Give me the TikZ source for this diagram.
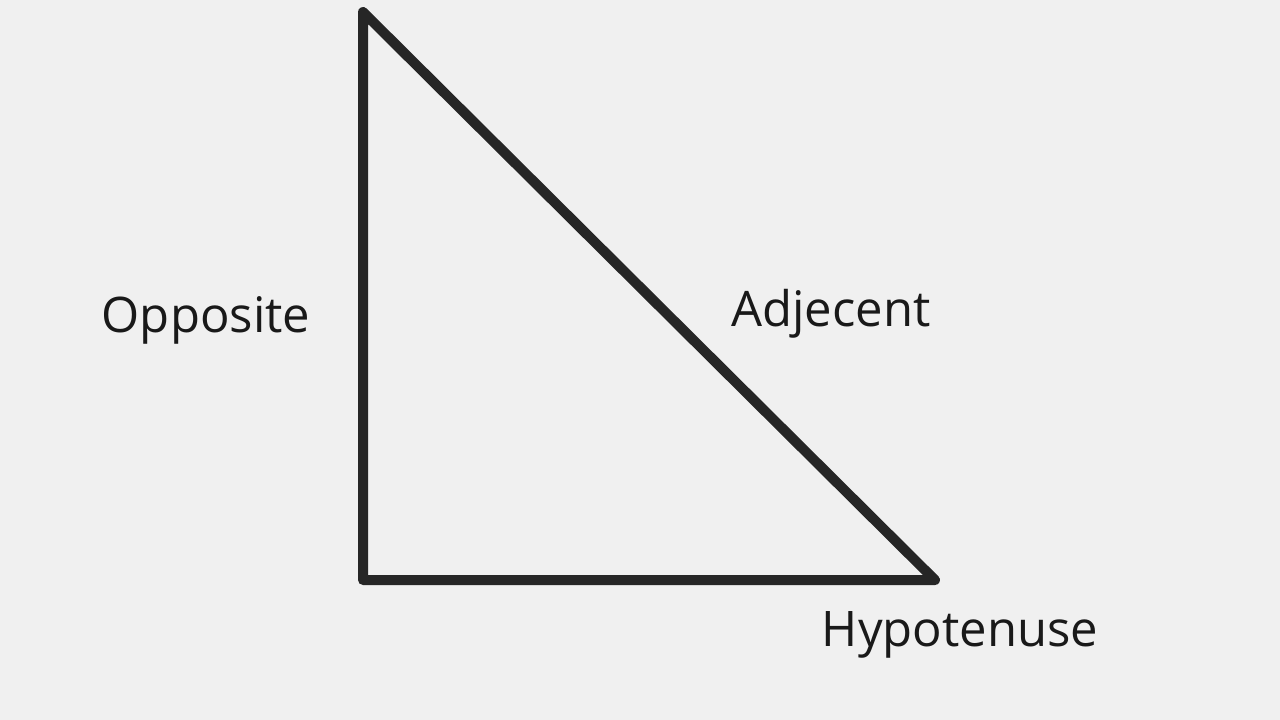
\documentclass[tikz,border=0pt]{standalone}
\usepackage{fontspec}
\setmainfont{Open Sans}
\begin{document}
\begin{tikzpicture}[x=1pt,y=-1pt,
  lbl/.style={font=\fontsize{49}{55}\selectfont, text=black!90, inner sep=0pt, anchor=base}]
\fill[black!6] (0,0) rectangle (1280,720);
\useasboundingbox (0,0) rectangle (1280,720);
\coordinate (A) at (363,12);
\coordinate (B) at (363,580);
\coordinate (C) at (935,580);
\draw[line width=10pt, line join=round, color=black!85] (A) -- (B) -- (C) -- cycle;
\node[lbl] (opp) at (206,332) {Opposite};
\node[lbl] (adj) at (831,326) {Adjecent};
\node[lbl] (hyp) at (960,646) {Hypotenuse};
\end{tikzpicture}
\end{document}
